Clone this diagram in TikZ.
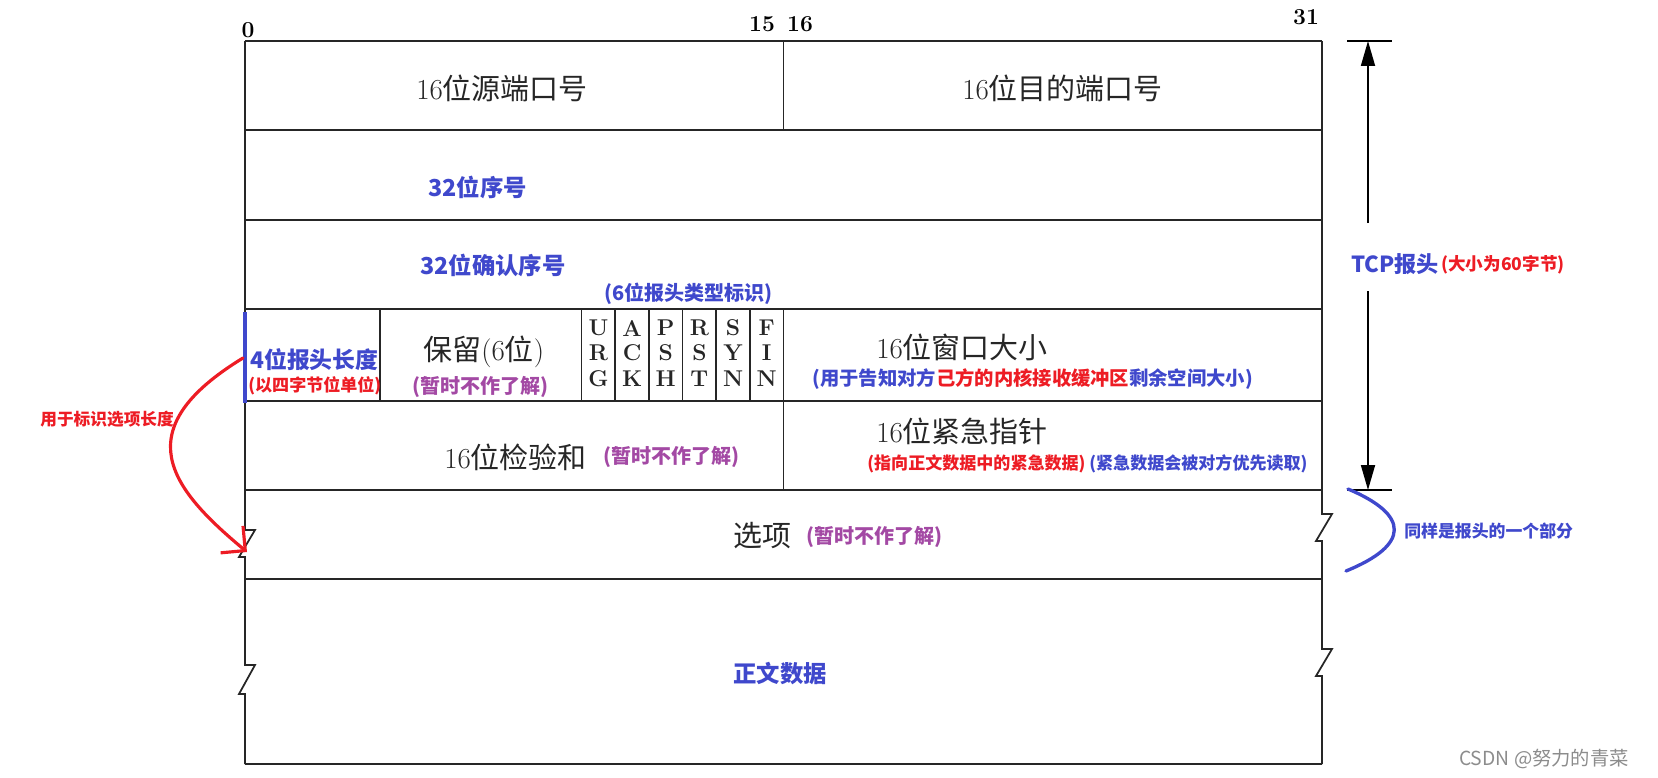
\documentclass[tikz,border=0pt]{standalone}
\usepackage{fontspec}
\usepackage{xcolor}
\usepackage{tikz}
\usetikzlibrary{arrows.meta}
\newfontfamily\cjk{Noto Sans CJK SC}
\definecolor{hblue}{RGB}{63,72,204}
\definecolor{hred}{RGB}{237,28,36}
\definecolor{hpurple}{RGB}{163,73,164}

\begin{document}
\begin{tikzpicture}[x=0.02cm, y=-0.02cm,
    frame/.style={line width=1pt, black!85},
    fieldtxt/.style={anchor=west, inner sep=0pt, text=black!85, font=\fontsize{16.5}{20}\selectfont},
    bluetxt/.style={anchor=west, inner sep=0pt, text=hblue, font=\fontsize{13.3}{16}\selectfont\cjk\bfseries},
    notetxt/.style={anchor=west, inner sep=0pt, font=\fontsize{11.4}{14}\selectfont\cjk\bfseries},
    smalltxt/.style={anchor=west, inner sep=0pt, font=\fontsize{9.7}{12}\selectfont\cjk\bfseries},
    bitno/.style={inner sep=0pt, font=\fontsize{13}{15}\selectfont\bfseries},
    flagtxt/.style={inner sep=0pt, text=black!85, font=\fontsize{13}{15}\selectfont\bfseries},
    dimline/.style={line width=1pt, -{Triangle[length=5mm,width=2.8mm]}},
    redarrow/.style={hred, line width=1.8pt, line cap=round, -{Straight Barb[length=3.5mm,width=7mm]}},
    bluecurve/.style={hblue, line width=1.9pt, line cap=round}]
    \useasboundingbox (0,0) rectangle (1658,778);

    \draw[frame] (245,41) -- (245,530) -- (255,530) -- (239,557) -- (245,557)
        -- (245,665) -- (255,665) -- (239,694) -- (245,694) -- (245,764);
    \draw[frame] (1322,41) -- (1322,514) -- (1332,514) -- (1316,541) -- (1322,541)
        -- (1322,649) -- (1332,649) -- (1316,676) -- (1322,676) -- (1322,764);
    \foreach \y in {41,130,220,309,401,490,579,764} {
        \draw[frame] (245,\y) -- (1322,\y);
    }
    \draw[frame] (783.5,41) -- (783.5,130);
    \draw[frame] (783.5,401) -- (783.5,490);
    \foreach \b in {4,10,11,12,13,14,15,16} {
        \draw[frame] ({245+\b*33.66},309) -- ++(0,92);
    }
    \draw[hblue, line width=2.3pt] (245,312) -- (245,403);

    \node[bitno] (b0) at (248,30) {0};
    \node[bitno] (b15) at (762,24) {15};
    \node[bitno] (b16) at (800,24) {16};
    \node[bitno] (b31) at (1306,17) {31};

    \node[fieldtxt] (srcport) at (416,88) {16{\cjk 位源端口号}};
    \node[fieldtxt] (dstport) at (962,88) {16{\cjk 位目的端口号}};
    \node[bluetxt] (seq) at (428,187) {32位序号};
    \node[bluetxt] (ack) at (420,265) {32位确认序号};
    \node[notetxt, text=hblue] (flagnote) at (604,294) {(6位报头类型标识)};
    \node[bluetxt, font=\fontsize{13}{16}\selectfont\cjk\bfseries] (hlen) at (250,360) {4位报头长度};
    \node[smalltxt, text=hred] (hlenunit) at (248,386) {(以四字节位单位)};
    \node[fieldtxt] (rsv) at (423,352) {{\cjk 保留}(6{\cjk 位})};
    \node[notetxt, text=hpurple] (rsvnote) at (412,387) {(暂时不作了解)};
    \foreach \a/\b/\c [count=\i] in {U/R/G,A/C/K,P/S/H,R/S/T,S/Y/N,F/I/N} {
        \node[flagtxt] (f\i-a) at ({245+(9.5+\i)*33.66},328) {\a};
        \node[flagtxt] (f\i-b) at ({245+(9.5+\i)*33.66},353) {\b};
        \node[flagtxt] (f\i-c) at ({245+(9.5+\i)*33.66},379) {\c};
    }
    \node[fieldtxt] (win) at (876,347) {16{\cjk 位窗口大小}};
    \node[notetxt, text=hblue, font=\fontsize{11}{13}\selectfont\cjk\bfseries] (winnote) at (812,379)
        {(用于告知对方\textcolor{hred}{己方的内核接收缓冲区}剩余空间大小)};
    \node[fieldtxt] (cksum) at (444,457) {16{\cjk 位检验和}};
    \node[notetxt, text=hpurple] (cksumnote) at (603,457) {(暂时不作了解)};
    \node[fieldtxt] (urgptr) at (876,431) {16{\cjk 位紧急指针}};
    \node[smalltxt, text=hred] (urgnote) at (867,464) {(指向正文数据中的紧急数据)};
    \node[smalltxt, text=hblue] (urgread) at (1089,464) {(紧急数据会被对方优先读取)};
    \node[fieldtxt] (opt) at (733,536) {\cjk 选项};
    \node[notetxt, text=hpurple] (optnote) at (806,537) {(暂时不作了解)};
    \node[bluetxt] (data) at (733,674) {正文数据};

    \node[bluetxt, font=\fontsize{12.6}{15}\selectfont\cjk\bfseries] (hdr) at (1351,264) {TCP报头};
    \node[smalltxt, text=hred, font=\fontsize{10}{12}\selectfont\cjk\bfseries] (hdrsize) at (1441,265) {(大小为60字节)};
    \coordinate (htop) at (1368,41);
    \coordinate (hbot) at (1368,490);
    \coordinate (hgapa) at (1368,223);
    \coordinate (hgapb) at (1368,291);
    \draw[dimline] (hgapa) -- (htop);
    \draw[dimline] (hgapb) -- (hbot);
    \draw[line width=1pt] (1347,41) -- (1392,41);
    \draw[line width=1pt] (1347,490) -- (1392,490);

    \coordinate (bra) at (1348,489);
    \coordinate (brb) at (1346,571);
    \draw[bluecurve] (bra) .. controls (1410,515) and (1410,545) .. (brb);
    \node[smalltxt, text=hblue, font=\fontsize{9.6}{12}\selectfont\cjk\bfseries] (optpart) at (1404,531) {同样是报头的一个部分};

    \node[smalltxt, text=hred, font=\fontsize{9.5}{12}\selectfont\cjk\bfseries] (lennote) at (40,419) {用于标识选项长度};
    \coordinate (lenstart) at (243,358);
    \coordinate (lentip) at (247,552);
    \draw[redarrow] (lenstart) .. controls (125,430) and (170,488) .. (lentip);

    \node[text=black!45, inner sep=0pt, font=\fontsize{11}{13}\selectfont\cjk] (mark) at (1544,759) {CSDN @努力的青菜};
\end{tikzpicture}
\end{document}
